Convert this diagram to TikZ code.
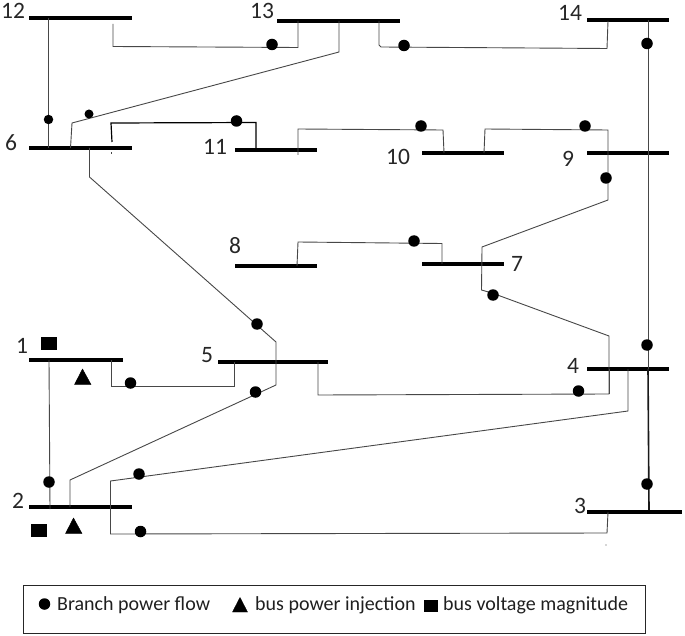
\documentclass[tikz,border=0pt]{standalone}
\usepackage{fontspec}
\setmainfont{Carlito}
\tikzset{
  x=1pt,y=-1pt,
  bus/.style={fill=black,inner sep=0pt,minimum height=4pt,minimum width=#1,rectangle},
  wire/.style={draw=black!72,line width=0.9pt,line join=miter},
  heavy/.style={draw=black!90,line width=1.6pt},
  flowdot/.style={circle,fill=black,inner sep=0pt,minimum size=11.5pt},
  sqmark/.style={rectangle,fill=black,inner sep=0pt,minimum width=16.5pt,minimum height=13pt},
  trimark/.style={fill=black},
  lab/.style={inner sep=0pt,text=black!85,font=\fontsize{23.5}{26}\selectfont},
  leg/.style={inner sep=0pt,anchor=base west,text=black!88,font=\fontsize{20}{22}\selectfont}
}
\begin{document}
\begin{tikzpicture}
\useasboundingbox (0,0) rectangle (685,636);
% buses
\node[bus=103pt] (b12) at (80.5,18) {};
\node[bus=123pt] (b13) at (338.5,21) {};
\node[bus=82pt] (b14) at (628,20.5) {};
\node[bus=103pt] (b6) at (80.5,148) {};
\node[bus=82pt] (b11) at (276,150.5) {};
\node[bus=82pt] (b10) at (463,153) {};
\node[bus=82pt] (b9) at (628,153) {};
\node[bus=82pt] (b8) at (276,266) {};
\node[bus=82pt] (b7) at (463,264) {};
\node[bus=94pt] (b1) at (76,360) {};
\node[bus=110pt] (b5) at (273,362) {};
\node[bus=82pt] (b4) at (628,369) {};
\node[bus=103pt] (b2) at (80.5,507) {};
\node[bus=95pt] (b3) at (634.5,512) {};
% ports on buses
\coordinate (p12a) at (48.5,18);
\coordinate (p12b) at (113,24);
\coordinate (p13a) at (298,21);
\coordinate (p13b) at (339,21);
\coordinate (p13c) at (379,21);
\coordinate (p14a) at (608,21);
\coordinate (p14b) at (648,20);
\coordinate (p6a) at (48.5,148);
\coordinate (p6b) at (70.5,148);
\coordinate (p6c) at (112,142);
\coordinate (p6d) at (89.5,148);
\coordinate (p11a) at (256,150);
\coordinate (p11b) at (298,155);
\coordinate (p10a) at (444,153);
\coordinate (p10b) at (484,153);
\coordinate (p9a) at (608,147);
\coordinate (p7a) at (442,264);
\coordinate (p7b) at (482,249);
\coordinate (p8a) at (297,266);
\coordinate (p1a) at (49,360);
\coordinate (p1b) at (111,360);
\coordinate (p2a) at (50,509);
\coordinate (p2b) at (70,507);
\coordinate (p2c) at (110.5,507);
\coordinate (p5a) at (234,362);
\coordinate (p5b) at (276,342);
\coordinate (p5c) at (318,362);
\coordinate (p4a) at (609,369);
\coordinate (p4b) at (628,369);
\coordinate (p4c) at (648,369);
\coordinate (p3a) at (608,512);
\coordinate (p3b) at (649,510);
% connectors
\draw[wire] (p12a) -- (p6a);
\draw[wire] (p12b) -- (113,46.5) -- (298,47.5) -- (p13a);
\draw[wire] (p13b) -- (339,52) -- (72,123) -- (p6b);
\draw[wire] (p13c) -- (379,45) -- (381,47) -- (607,48.5) -- (p14a);
\draw[wire] (p14b) -- (p4c);
\draw[heavy] (p4c) -- (p3b);
\draw[wire,line width=1.2pt,draw=black] (p6c) -- (111,123) -- (256,122.5) -- (p11a);
\draw[wire] (111.5,152.5) -- (111.5,154);
\draw[wire] (p11b) -- (298,129) -- (443,130) -- (p10a);
\draw[wire] (p10b) -- (485,129) -- (608,130) -- (608,200) -- (482,247) -- (p7b);
\draw[wire] (p7b) -- (481.5,290) -- (492,293) -- (609,336) -- (609,394) -- (318,395) -- (p5c);
\draw[wire] (p4a) -- (609,394);
\draw[wire] (p8a) -- (298,242) -- (442,243.5) -- (p7a);
\draw[wire] (p6d) -- (89.5,177) -- (276,342) -- (276,385) -- (70,480) -- (p2b);
\draw[wire] (p1a) -- (p2a);
\draw[wire] (p1b) -- (111,386) -- (234,386) -- (p5a);
\draw[wire] (p4b) -- (628,411) -- (110.5,481) -- (110.5,534) -- (607,533) -- (p3a);
% flow dots
\node[flowdot,minimum size=9.5pt] (d1) at (48.5,119.5) {};
\node[flowdot,minimum size=9pt] (d2) at (89,114) {};
\node[flowdot] (d3) at (272,44.5) {};
\node[flowdot] (d4) at (404,45.5) {};
\node[flowdot] (d5) at (647,43.5) {};
\node[flowdot] (d6) at (236.5,121) {};
\node[flowdot] (d7) at (421,126) {};
\node[flowdot] (d8) at (585,126) {};
\node[flowdot] (d9) at (606,178) {};
\node[flowdot] (d10) at (414,241) {};
\node[flowdot] (d11) at (493,295) {};
\node[flowdot] (d12) at (257,324) {};
\node[flowdot] (d13) at (647,345) {};
\node[flowdot] (d14) at (130.5,383) {};
\node[flowdot] (d15) at (255.5,392) {};
\node[flowdot] (d16) at (578.5,391) {};
\node[flowdot] (d17) at (49,482) {};
\node[flowdot] (d18) at (139,474) {};
\node[flowdot] (d19) at (140.5,531.5) {};
\node[flowdot] (d20) at (647,484) {};
\node[inner sep=0pt,minimum size=1.2pt,fill=black!70,circle] (spk) at (606,545) {};
% injection and voltage markers
\node[sqmark] (s1) at (49,343.5) {};
\node[sqmark] (s2) at (39,530.5) {};
\draw[trimark] (82.5,369) -- (91,384.5) -- (74.5,384.5) -- cycle;
\draw[trimark] (73.5,518) -- (82,533.5) -- (65.5,533.5) -- cycle;
% bus labels
\node[lab] (l12) at (13,11) {12};
\node[lab] (l13) at (262,11) {13};
\node[lab] (l14) at (570,13) {14};
\node[lab] (l6) at (11,143) {6};
\node[lab] (l11) at (215,147) {11};
\node[lab] (l10) at (398,157) {10};
\node[lab] (l9) at (568,159) {9};
\node[lab] (l8) at (235,246) {8};
\node[lab] (l7) at (517,264) {7};
\node[lab] (l1) at (22,346) {1};
\node[lab] (l5) at (207,355) {5};
\node[lab] (l4) at (573,366) {4};
\node[lab] (l2) at (18,501) {2};
\node[lab] (l3) at (580,506) {3};
% legend
\node[draw=black!85,line width=1pt,inner sep=0pt,minimum width=622pt,minimum height=48pt] (legbox) at (334,609) {};
\node[flowdot] (ld) at (44.5,604) {};
\node[leg] (lt1) at (57,610.5) {Branch power flow};
\draw[trimark] (240,597.5) -- (247.5,612) -- (232.5,612) -- cycle;
\node[leg] (lt2) at (255,610.5) {bus power injection};
\node[rectangle,fill=black,inner sep=0pt,minimum width=14pt,minimum height=12pt] (ls) at (431,606) {};
\node[leg] (lt3) at (443,610.5) {bus voltage magnitude};
\end{tikzpicture}
\end{document}
